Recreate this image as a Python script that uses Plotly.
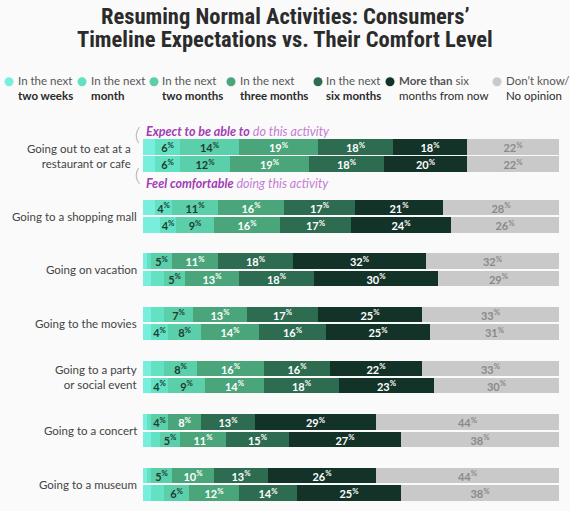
"""Resuming normal activities: timeline expectations vs. comfort level.
Stacked horizontal bars, two rows per activity (expect / comfortable)."""
import plotly.graph_objects as go

W, H = 570, 511
L, R, T, B = 143, 11, 125, 6
PW, PH = W - L - R, H - T - B

activities = [
    'Going out to eat at a<br>restaurant or cafe',
    'Going to a shopping mall',
    'Going on vacation',
    'Going to the movies',
    'Going to a party<br>or social event',
    'Going to a concert',
    'Going to a museum',
]

buckets = ['two weeks', 'month', 'two months', 'three months',
           'six months', 'more than six', "don't know"]

# "Expect to be able to do this activity"
expect_two_weeks = [3, 3, 1, 2, 2, 1, 1]
expect_month = [6, 4, 1, 3, 3, 1, 1]
expect_two_months = [14, 11, 5, 7, 8, 4, 5]
expect_three_months = [19, 16, 11, 13, 16, 8, 10]
expect_six_months = [18, 17, 18, 17, 16, 13, 13]
expect_more_than_six = [18, 21, 32, 25, 22, 29, 26]
expect_dont_know = [22, 28, 32, 33, 33, 44, 44]

# "Feel comfortable doing this activity"
comfort_two_weeks = [3, 4, 2, 2, 2, 2, 2]
comfort_month = [6, 4, 3, 4, 4, 2, 3]
comfort_two_months = [12, 9, 5, 8, 9, 5, 6]
comfort_three_months = [19, 16, 13, 14, 14, 11, 12]
comfort_six_months = [18, 17, 18, 16, 18, 15, 14]
comfort_more_than_six = [20, 24, 30, 25, 23, 27, 25]
comfort_dont_know = [22, 26, 29, 31, 30, 38, 38]

legend_line1 = ['In the next', 'In the next', 'In the next', 'In the next',
                'In the next', '<b>More than</b> six', 'Don’t know/']
legend_line2 = ['<b>two weeks</b>', '<b>month</b>', '<b>two months</b>',
                '<b>three months</b>', '<b>six months</b>', 'months from now',
                'No opinion']

COLORS = ['#78efdc', '#62e2c3', '#5acfa9', '#4aa57b', '#2d6c51', '#133228', '#c9c9c9']
TEXT_COLORS = ['#1f3b33', '#1f3b33', '#1f3b33', '#ffffff', '#ffffff', '#ffffff', '#8a8a8a']
LEGEND_CIRCLE_X = [9, 82, 154, 231, 318, 390, 497]
LEGEND_TEXT_X = [16, 89, 160, 238, 324, 397, 504]

FONT = 'Lato, Roboto, sans-serif'
PURPLE = '#a33bb6'
PURPLE_LIGHT = '#c67ad4'


def px_x(p):
    return (p - L) / PW


def px_y(p):
    return (H - B - p) / PH


# group centres in units of one group spacing; first group has a little extra room
SPACING = 53.6
group_pos = [0.0] + [k + 0.133 for k in range(1, len(activities))]
ROW_OFF = 8.7 / SPACING
BAR_W = 15.5 / SPACING
y_expect = [g - ROW_OFF for g in group_pos]
y_comfort = [g + ROW_OFF for g in group_pos]

expect = [expect_two_weeks, expect_month, expect_two_months, expect_three_months,
          expect_six_months, expect_more_than_six, expect_dont_know]
comfort = [comfort_two_weeks, comfort_month, comfort_two_months, comfort_three_months,
           comfort_six_months, comfort_more_than_six, comfort_dont_know]


def seg_text(i, vals):
    if i == 0:
        return None
    return [f'<b>{v}<sup>%</sup></b>' if v >= 4 else ' ' for v in vals]


fig = go.Figure()
for i, name in enumerate(buckets):
    for ys, data in ((y_expect, expect), (y_comfort, comfort)):
        fig.add_trace(go.Bar(
            x=data[i], y=ys, orientation='h', width=BAR_W, name=name,
            marker=dict(color=COLORS[i], line=dict(width=0)),
            text=seg_text(i, data[i]), textposition='inside',
            insidetextanchor='middle', textangle=0, constraintext='none',
            textfont=dict(family=FONT, size=11, color=TEXT_COLORS[i]),
            hoverinfo='skip', showlegend=False,
        ))

ann = []
# title
for txt, y in (('Resuming Normal Activities: Consumers’', 16),
               ('Timeline Expectations vs. Their Comfort Level', 38.5)):
    ann.append(dict(text=f'<b>{txt}</b>', x=px_x(285), y=px_y(y), xref='paper', yref='paper',
                    xanchor='center', yanchor='middle', showarrow=False,
                    font=dict(family='Liberation Sans Narrow, Roboto Condensed, DejaVu Sans Condensed, sans-serif',
                              size=22.5, color='#2b2b2b')))

# legend
shapes = []
for k in range(len(buckets)):
    shapes.append(dict(type='circle', xref='paper', yref='paper',
                       xsizemode='pixel', ysizemode='pixel',
                       xanchor=px_x(LEGEND_CIRCLE_X[k]), yanchor=px_y(81.8),
                       x0=-4.5, x1=4.5, y0=-4.5, y1=4.5,
                       fillcolor=COLORS[k], line=dict(width=0)))
    ann.append(dict(text=f'<span style="color:#555">{legend_line1[k]}</span><br>'
                         f'<span style="color:#2b2b2b">{legend_line2[k]}</span>',
                    x=px_x(LEGEND_TEXT_X[k]), y=px_y(88), xref='paper', yref='paper',
                    xanchor='left', yanchor='middle', align='left', showarrow=False,
                    font=dict(family=FONT, size=11.5, color='#555')))

# activity labels
for k, act in enumerate(activities):
    ann.append(dict(text=act, x=0, y=group_pos[k], xref='paper', yref='y',
                    xanchor='right', yanchor='middle', align='right', showarrow=False,
                    xshift=-10 if k == 0 else -4,
                    font=dict(family=FONT, size=11.5, color='#444')))

# row explanations for the first activity
ann.append(dict(text=f'<span style="color:{PURPLE}"><b><i>Expect to be able to</i></b></span>'
                     f'<span style="color:{PURPLE_LIGHT}"><i> do this activity</i></span>',
                x=px_x(143.5), y=px_y(131), xref='paper', yref='paper',
                xanchor='left', yanchor='middle', showarrow=False,
                font=dict(family=FONT, size=12.5)))
ann.append(dict(text=f'<span style="color:{PURPLE}"><b><i>Feel comfortable</i></b></span>'
                     f'<span style="color:{PURPLE_LIGHT}"><i> doing this activity</i></span>',
                x=px_x(143.5), y=px_y(183), xref='paper', yref='paper',
                xanchor='left', yanchor='middle', showarrow=False,
                font=dict(family=FONT, size=12.5)))

# little brackets linking the explanations to the label
for (x0, y0), (xc, yc), (x1, y1) in (((139.5, 127), (133.5, 135), (138.5, 143)),
                                     ((138.5, 168), (133.5, 176), (139.5, 184))):
    shapes.append(dict(type='path', xref='paper', yref='paper',
                       path=f'M {px_x(x0)} {px_y(y0)} Q {px_x(xc)} {px_y(yc)} {px_x(x1)} {px_y(y1)}',
                       line=dict(color='#bdbdbd', width=1.2)))

fig.update_layout(
    width=W, height=H,
    barmode='stack', bargap=0,
    paper_bgcolor='#fafafa', plot_bgcolor='#fafafa',
    margin=dict(l=L, r=R, t=T, b=B),
    xaxis=dict(range=[0, 100], visible=False, fixedrange=True),
    yaxis=dict(range=[(H - B - 155.5) / SPACING, (T - 155.5) / SPACING],
               visible=False, fixedrange=True),
    annotations=ann, shapes=shapes,
    uniformtext=dict(mode=False),
    showlegend=False,
)

fig.write_html('out.html', config={'displayModeBar': False},
               post_script="document.body.style.margin='0';"
                           "document.body.style.overflow='hidden';")
